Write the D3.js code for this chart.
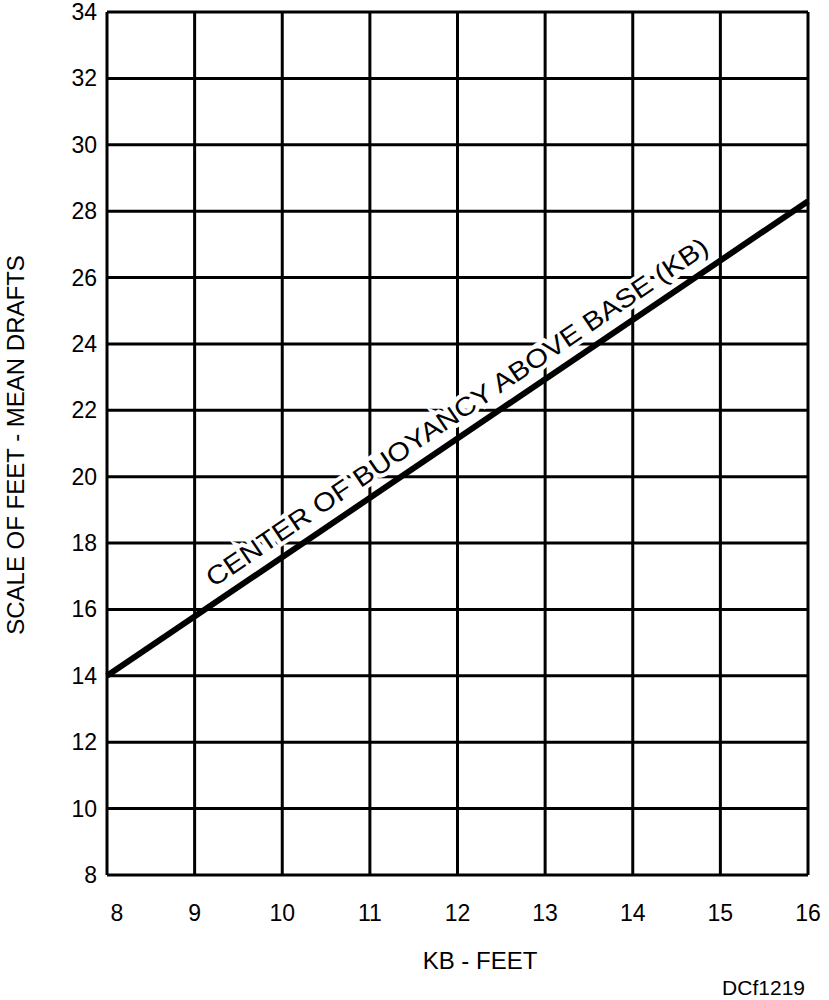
<!DOCTYPE html>
<html><head><meta charset="utf-8">
<script src="https://cdn.jsdelivr.net/npm/d3@7"></script>
<style>body{margin:0;background:#fff}text{font-family:"Liberation Sans",Arial,sans-serif;fill:#000}</style>
</head><body>
<svg id="c" width="829" height="1000"></svg>
<script>
const xTicks=[8,9,10,11,12,13,14,15,16];
const yTicks=[8,10,12,14,16,18,20,22,24,26,28,30,32,34];
const kbX=[8,16];
const kbY=[14,28.3];
const lineLabel="CENTER OF BUOYANCY ABOVE BASE (KB)";
const svg=d3.select("#c");
const x=d3.scaleLinear().domain([8,16]).range([107,808]);
const y=d3.scaleLinear().domain([8,34]).range([875,12]);
const g=svg.append("g");
g.selectAll(".vx").data(xTicks).join("line").attr("x1",d=>x(d)).attr("x2",d=>x(d)).attr("y1",y(8)).attr("y2",y(34)).attr("stroke","#000").attr("stroke-width",3);
g.selectAll(".hy").data(yTicks).join("line").attr("x1",x(8)).attr("x2",x(16)).attr("y1",d=>y(d)).attr("y2",d=>y(d)).attr("stroke","#000").attr("stroke-width",3);
g.selectAll(".yl").data(yTicks).join("text").attr("x",97).attr("y",d=>y(d)+8).attr("text-anchor","end").attr("font-size",23).text(d=>d);
g.selectAll(".xl").data(xTicks).join("text").attr("x",d=>x(d)+(d==8?10:0)).attr("y",921).attr("text-anchor","middle").attr("font-size",23).text(d=>d);
const pts=kbX.map((v,i)=>[x(v),y(kbY[i])]);
svg.append("path").attr("d",d3.line()(pts)).attr("stroke","#000").attr("stroke-width",6).attr("fill","none");
const ang=Math.atan2(pts[1][1]-pts[0][1],pts[1][0]-pts[0][0])*180/Math.PI;
const xm=12.05;
const lx=x(xm),ly=y(14+(xm-8)*(14.3/8))-16;
svg.append("text").attr("transform",`translate(${lx},${ly}) rotate(${ang})`).attr("text-anchor","middle").attr("font-size",26)
 .attr("textLength",600).attr("lengthAdjust","spacingAndGlyphs")
 .attr("stroke","#fff").attr("stroke-width",8).attr("paint-order","stroke").style("fill","#000").text(lineLabel);
svg.append("text").attr("x",480).attr("y",969).attr("text-anchor","middle").attr("font-size",24).text("KB - FEET");
svg.append("text").attr("x",805).attr("y",995).attr("text-anchor","end").attr("font-size",21).text("DCf1219");
svg.append("text").attr("transform","translate(24,445) rotate(-90)").attr("text-anchor","middle").attr("font-size",24).text("SCALE OF FEET - MEAN DRAFTS");
</script></body></html>
